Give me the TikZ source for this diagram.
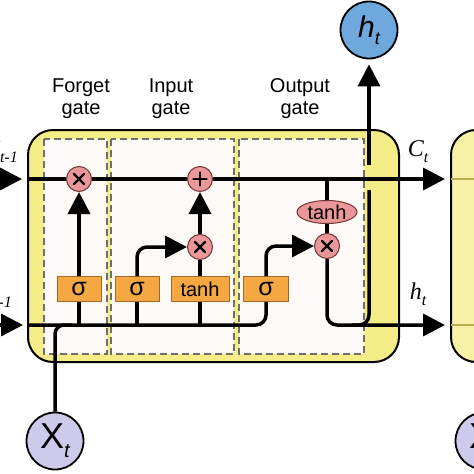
\documentclass[tikz,border=0pt]{standalone}
\usepackage{fontspec}
\setmainfont{Liberation Sans}
\newfontfamily\serifit{Liberation Serif}
\usetikzlibrary{arrows.meta,shapes.geometric}
\definecolor{boxyellow}{RGB}{243,236,135}
\definecolor{boxyellowb}{RGB}{246,241,165}
\definecolor{innerfill}{RGB}{253,249,246}
\definecolor{actorange}{RGB}{245,168,66}
\definecolor{actborder}{RGB}{160,105,40}
\definecolor{oppink}{RGB}{235,150,152}
\definecolor{opborder}{RGB}{110,55,55}
\definecolor{hblue}{RGB}{111,168,220}
\definecolor{xlav}{RGB}{206,202,236}
\definecolor{olive}{RGB}{185,175,85}
\definecolor{dashgray}{RGB}{110,110,110}
\newcommand\lstmtimes[1]{\draw[line width=2.4pt,line cap=round] ([shift={(-5,-5)}]#1.center) -- ([shift={(5,5)}]#1.center) ([shift={(-5,5)}]#1.center) -- ([shift={(5,-5)}]#1.center);}
\newcommand\lstmplus[1]{\draw[line width=2.6pt,line cap=round] ([shift={(-6.5,0)}]#1.center) -- ([shift={(6.5,0)}]#1.center) ([shift={(0,-6.5)}]#1.center) -- ([shift={(0,6.5)}]#1.center);}
\newcommand\statetext[2]{{\serifit\itshape\fontsize{24}{24}\selectfont #1}\raisebox{-6pt}{\serifit\itshape\fontsize{16}{16}\selectfont #2}}
\begin{document}
\begin{tikzpicture}[x=1pt,y=-1pt,
  wire/.style={line width=3.5pt,line join=round},
  arr/.style={-{Triangle[length=22pt,width=22pt]}},
  cellbox/.style={draw=black,line width=2pt,rounded corners=25pt},
  gatebox/.style={draw=dashgray,line width=1.5pt,dash pattern=on 7pt off 4pt,fill=innerfill},
  opcirc/.style={circle,draw=opborder,fill=oppink,line width=1pt,minimum size=25pt,inner sep=0pt},
  actbox/.style={draw=actborder,fill=actorange,line width=1pt,minimum height=25pt,inner sep=0pt,font=\fontsize{20}{20}\selectfont},
  sigtext/.style={font=\fontsize{25}{25}\selectfont},
  gatelabel/.style={align=center,font=\fontsize{20}{22}\selectfont},
  statelabel/.style={inner sep=0pt},
  iocirc/.style={circle,draw=black,line width=1.8pt,minimum size=57pt,inner sep=0pt}]
\useasboundingbox (0,0) rectangle (474,474);
\clip (0,0) rectangle (474,474);
% cell boxes
\draw[cellbox,fill=boxyellow] (28,130) rectangle (399,362);
\draw[cellbox,fill=boxyellowb] (451,130) rectangle (530,362);
\draw[olive,line width=2pt] (451,179) -- (474,179) (451,325) -- (474,325);
% gate regions
\draw[gatebox] (44,139) rectangle (107,354);
\draw[gatebox] (111,139) rectangle (234,354);
\draw[gatebox] (239,139) rectangle (364,354);
% labels
\node[gatelabel] (lf) at (81,99) {Forget\\gate};
\node[gatelabel] (li) at (171,99) {Input\\gate};
\node[gatelabel] (lo) at (300,99) {Output\\gate};
\node[statelabel,anchor=east] (lc0) at (18,152) {\statetext{C}{t-1}};
\node[statelabel,anchor=east] (lh0) at (12,296) {\statetext{h}{t-1}};
\node[statelabel] (lc1) at (418,152) {\statetext{C}{t}};
\node[statelabel] (lh1) at (418,294) {\statetext{h}{t}};
% operators
\node[opcirc] (fx) at (79,179) {};
\node[opcirc] (plus) at (200,179) {};
\node[opcirc] (ix) at (200,247) {};
\node[opcirc] (ox) at (327,246) {};
\node[ellipse,draw=opborder,fill=oppink,line width=1pt,minimum width=60pt,minimum height=23pt,inner sep=0pt,font=\fontsize{20}{20}\selectfont] (otanh) at (327,212) {tanh};
\node[actbox,sigtext,minimum width=44pt] (fs) at (79,289) {σ};
\node[actbox,sigtext,minimum width=44pt] (is) at (137,289) {σ};
\node[actbox,minimum width=58pt] (it) at (200,289) {tanh};
\node[actbox,sigtext,minimum width=45pt] (os) at (266,289) {σ};
% io circles
\node[iocirc,fill=hblue] (ht) at (369,30) {{\fontsize{30}{30}\selectfont\itshape h}\raisebox{-7pt}{\fontsize{18}{18}\selectfont\itshape t}};
\node[iocirc,fill=xlav] (xt) at (55,441) {{\fontsize{36}{36}\selectfont X}\raisebox{-9pt}{\fontsize{20}{20}\selectfont\itshape t}};
\node[iocirc,fill=xlav] (xt2) at (484,441) {{\fontsize{36}{36}\selectfont X}\raisebox{-9pt}{\fontsize{20}{20}\selectfont\itshape t}};
% coordinates
\coordinate (cin) at (-10,179);
\coordinate (cinend) at (22,179);
\coordinate (cstart) at (28,179);
\coordinate (cout) at (445,179);
\coordinate (ctap) at (327,179);
\coordinate (hin) at (-10,325);
\coordinate (hinend) at (23,325);
\coordinate (hstart) at (28,325);
\coordinate (hout) at (445,325);
\coordinate (xjoin) at (72,325);
\coordinate (hbr) at (352,325);
\coordinate (bridgelow) at (369,190);
\coordinate (bridgehigh) at (369,165);
% cell state line
\draw[wire,arr] (cin) -- (cinend);
\draw[wire] (cstart) -- (fx.west);
\draw[wire] (fx.east) -- (plus.west);
\draw[wire,arr] (plus.east) -- (cout);
\draw[wire] (ctap) -- (otanh.north);
% hidden state line
\draw[wire,arr] (hin) -- (hinend);
\draw[wire,rounded corners=10pt] (hstart) -| (os.south);
\draw[wire,rounded corners=9pt] (xt.north) |- (xjoin);
% forget gate
\draw[wire] (fs.south |- hstart) -- (fs.south);
\draw[wire,arr] (fs.north) -- (fx.south);
% input gate
\draw[wire] (is.south |- hstart) -- (is.south);
\draw[wire,arr,rounded corners=10pt] (is.north) |- (ix.west);
\draw[wire] (it.south |- hstart) -- (it.south);
\draw[wire] (it.north) -- (ix.south);
\draw[wire,arr] (ix.north) -- (plus.south);
% output gate
\draw[wire,arr,rounded corners=10pt] (os.north) |- (ox.west);
\draw[wire] (otanh.south) -- (ox.north);
\draw[wire,arr,rounded corners=10pt] (ox.south) |- (hout);
\draw[wire,rounded corners=10pt] (hbr) -| (bridgelow);
\draw[wire,arr,shorten >=5pt] (bridgehigh) -- (ht.south);
% operator symbols
\lstmtimes{fx}
\lstmtimes{ix}
\lstmtimes{ox}
\lstmplus{plus}
\end{tikzpicture}
\end{document}
